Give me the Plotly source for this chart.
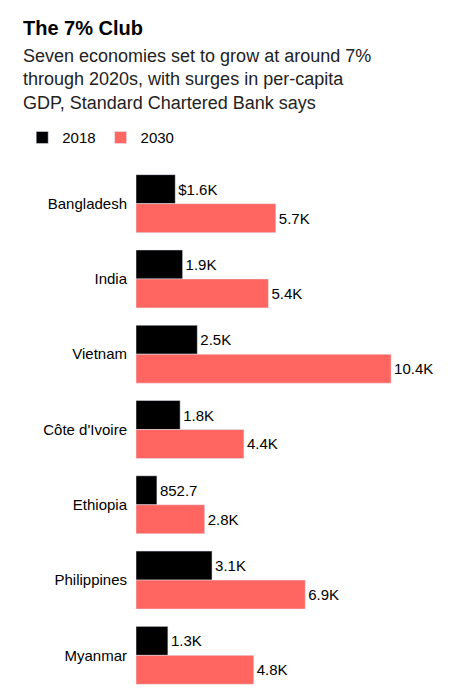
import plotly.graph_objects as go

countries = ["Bangladesh", "India", "Vietnam", "Côte d'Ivoire", "Ethiopia", "Philippines", "Myanmar"]
v2018 = [1.6, 1.9, 2.5, 1.8, 0.8527, 3.1, 1.3]
v2030 = [5.7, 5.4, 10.4, 4.4, 2.8, 6.9, 4.8]
lab2018 = ["$1.6K", "1.9K", "2.5K", "1.8K", "852.7", "3.1K", "1.3K"]
lab2030 = ["5.7K", "5.4K", "10.4K", "4.4K", "2.8K", "6.9K", "4.8K"]

font = "Liberation Sans, Arial, sans-serif"
fig = go.Figure()
fig.add_bar(y=countries, x=v2018, orientation="h", name="2018", marker_color="black",
            text=lab2018, textposition="outside", cliponaxis=False,
            textfont=dict(size=15, color="black"))
fig.add_bar(y=countries, x=v2030, orientation="h", name="2030", marker_color="#ff6561",
            text=lab2030, textposition="outside", cliponaxis=False,
            textfont=dict(size=15, color="black"))
fig.update_layout(
    width=474, height=690, barmode="group", bargap=0.23, bargroupgap=0,
    margin=dict(l=128, r=34, t=158, b=5),
    plot_bgcolor="white", paper_bgcolor="white",
    font=dict(family=font, color="black"),
    xaxis=dict(range=[0, 12.72], visible=False),
    yaxis=dict(autorange="reversed", showline=False, showgrid=False, ticks="",
               tickfont=dict(size=15), ticklabelstandoff=8),
    showlegend=True,
    legend=dict(orientation="h", x=0.03, y=0.812, xref="container", yref="container",
                xanchor="left", yanchor="middle", font=dict(size=15), itemwidth=30,
                traceorder="normal"),
    annotations=[
        dict(text="<b>The 7% Club</b>", x=-0.37, y=1.262, xref="paper", yref="paper",
             xanchor="left", yanchor="middle", showarrow=False, font=dict(size=20)),
        dict(text="Seven economies set to grow at around 7%<br>through 2020s, with surges in per-capita<br>GDP, Standard Chartered Bank says",
             x=-0.37, y=1.232, xref="paper", yref="paper", xanchor="left", yanchor="top",
             align="left", showarrow=False, font=dict(size=18, color="#222")),
    ],
)
fig.write_html("out.html")
